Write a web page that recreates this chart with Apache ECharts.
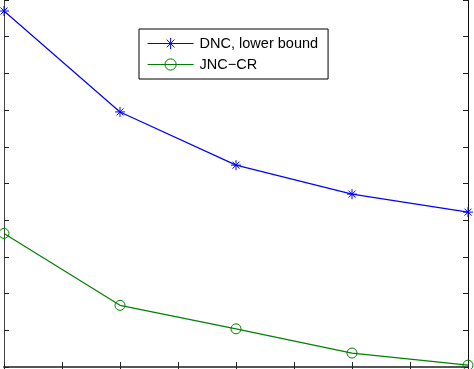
<!DOCTYPE html>
<html>
<head>
<meta charset="utf-8">
<script src="https://cdn.jsdelivr.net/npm/echarts@6/dist/echarts.min.js"></script>
<style>
  html, body { margin: 0; padding: 0; background: #fff; }
  #chart { width: 474px; height: 369px; }
</style>
</head>
<body>
<div id="chart"></div>
<script>
var xValues = [1, 2, 3, 4, 5];
var dncLower = [9.7, 6.95, 5.5, 4.71, 4.22];
var jncCr = [3.64, 1.68, 1.04, 0.38, 0.05];
var seriesNames = ['DNC, lower bound', 'JNC\u2212CR'];

// asterisk marker drawn with strokes, like matlab '*'
var starPath = 'path://M5,0 L5,10 M0,5 L10,5 M1.5,1.5 L8.5,8.5 M1.5,8.5 L8.5,1.5';

function pairs(ys) {
    return ys.map(function (y, i) { return [xValues[i], y]; });
}

var tickStyle = { show: true, inside: true, length: 5, lineStyle: { color: '#222', width: 1 } };

var option = {
    animation: false,
    backgroundColor: '#fff',
    grid: { left: 4, right: 6, top: 0, bottom: 2 },
    xAxis: [
        {
            type: 'value', min: 1, max: 5, interval: 0.5, position: 'bottom',
            axisLine: { show: true, lineStyle: { color: '#555', width: 2 } },
            axisTick: tickStyle, axisLabel: { show: false }, splitLine: { show: false }
        },
        {
            type: 'value', min: 1, max: 5, interval: 0.5, position: 'top',
            axisLine: { show: false },
            axisTick: tickStyle, axisLabel: { show: false }, splitLine: { show: false }
        }
    ],
    yAxis: [
        {
            type: 'value', min: 0, max: 10, interval: 1, position: 'left',
            axisLine: { show: true, lineStyle: { color: '#444', width: 1 } },
            axisTick: tickStyle, axisLabel: { show: false }, splitLine: { show: false }
        },
        {
            type: 'value', min: 0, max: 10, interval: 1, position: 'right',
            axisLine: { show: true, lineStyle: { color: '#111', width: 1 } },
            axisTick: tickStyle, axisLabel: { show: false }, splitLine: { show: false }
        }
    ],
    legend: {
        orient: 'vertical',
        left: 139, top: 29,
        padding: [7, 10, 7, 8],
        itemWidth: 46, itemHeight: 14, itemGap: 6,
        borderColor: '#000', borderWidth: 1,
        backgroundColor: '#fff',
        lineStyle: { width: 1.2 },
        itemStyle: { borderWidth: 1 },
        textStyle: { fontFamily: 'Liberation Sans, Arial, sans-serif', fontSize: 14.5, color: '#000', padding: [0, 0, 0, 1] },
        data: seriesNames
    },
    series: [
        {
            name: seriesNames[0], type: 'line',
            data: pairs(dncLower),
            symbol: starPath, symbolSize: 10, clip: false,
            lineStyle: { color: '#0000ff', width: 1.2 },
            itemStyle: { color: '#0000ff', borderColor: '#0000ff', borderWidth: 1 }
        },
        {
            name: seriesNames[1], type: 'line',
            data: pairs(jncCr),
            symbol: 'circle', symbolSize: 10, clip: false,
            lineStyle: { color: '#008000', width: 1.2 },
            itemStyle: { color: 'rgba(255,255,255,0)', borderColor: '#008000', borderWidth: 1 }
        }
    ]
};

var chart = echarts.init(document.getElementById('chart'));
chart.setOption(option);
</script>
</body>
</html>
